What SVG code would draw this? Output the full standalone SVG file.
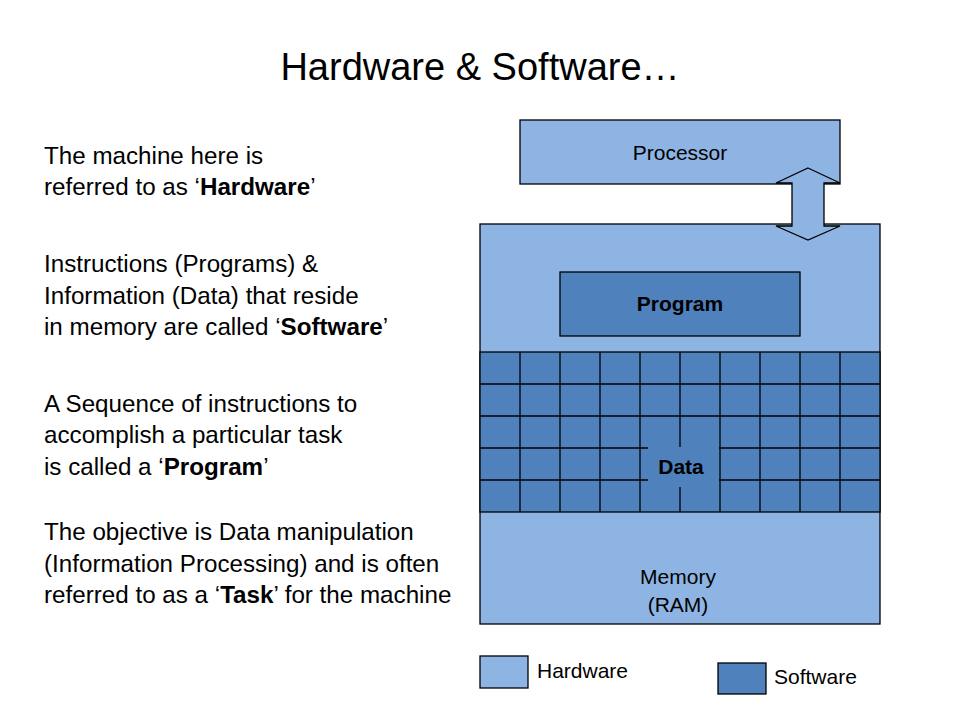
<svg xmlns="http://www.w3.org/2000/svg" width="960" height="720" viewBox="0 0 960 720">
<style>
.t{font-family:"Liberation Sans",Arial,sans-serif;font-size:24.2px;fill:#000}
.l{font-family:"Liberation Sans",Arial,sans-serif;font-size:21px;fill:#000}
.hw{fill:#8EB4E3;stroke:#000;stroke-width:1.3}
.sw{fill:#4F81BD;stroke:#000;stroke-width:1.3}
.g{stroke:#000;stroke-width:1.3}
</style>
<rect width="960" height="720" fill="#fff"/>
<text x="480" y="80" text-anchor="middle" style="font-family:'Liberation Sans',Arial,sans-serif;font-size:38px">Hardware &amp; Software…</text>
<g id="text" class="t">
<text x="44" y="164">The machine here is</text>
<text x="44" y="195">referred to as ‘<tspan font-weight="bold">Hardware</tspan>’</text>
<text x="44" y="272">Instructions (Programs) &amp;</text>
<text x="44" y="304">Information (Data) that reside</text>
<text x="44" y="335">in memory are called ‘<tspan font-weight="bold">Software</tspan>’</text>
<text x="44" y="412">A Sequence of instructions to</text>
<text x="44" y="443">accomplish a particular task</text>
<text x="44" y="475">is called a ‘<tspan font-weight="bold">Program</tspan>’</text>
<text x="44" y="540">The objective is Data manipulation</text>
<text x="44" y="572">(Information Processing) and is often</text>
<text x="44" y="603">referred to as a ‘<tspan font-weight="bold">Task</tspan>’ for the machine</text>
</g>
<g id="processor">
<rect class="hw" x="520" y="120" width="320" height="64"/>
<text class="l" x="680" y="160" text-anchor="middle">Processor</text>
</g>
<g id="memory">
<rect class="hw" x="480" y="224" width="400" height="400"/>
<text class="l" x="678" y="584" text-anchor="middle">Memory</text>
<text class="l" x="678" y="612" text-anchor="middle">(RAM)</text>
</g>
<g id="program">
<rect class="sw" x="560" y="272" width="240" height="64"/>
<text class="l" x="680" y="311" text-anchor="middle" font-weight="bold">Program</text>
</g>
<g id="data">
<rect class="sw" x="480" y="352" width="400" height="160"/>
<g class="g">
<line x1="480" y1="384" x2="880" y2="384"/><line x1="480" y1="416" x2="880" y2="416"/>
<line x1="480" y1="448" x2="880" y2="448"/><line x1="480" y1="480" x2="880" y2="480"/>
<line x1="520" y1="352" x2="520" y2="512"/><line x1="560" y1="352" x2="560" y2="512"/>
<line x1="600" y1="352" x2="600" y2="512"/><line x1="640" y1="352" x2="640" y2="512"/>
<line x1="680" y1="352" x2="680" y2="512"/><line x1="720" y1="352" x2="720" y2="512"/>
<line x1="760" y1="352" x2="760" y2="512"/><line x1="800" y1="352" x2="800" y2="512"/>
<line x1="840" y1="352" x2="840" y2="512"/>
</g>
<rect x="648" y="447" width="71" height="40" fill="#4F81BD"/>
<text class="l" x="681" y="474" text-anchor="middle" font-weight="bold">Data</text>
</g>
<g id="connectors">
<polygon class="hw" points="808,168 840,183 824,183 824,226 840,226 808,240 776,226 792,226 792,183 776,183"/>
</g>
<g id="legend">
<rect class="hw" x="480" y="656" width="48" height="32"/>
<text class="l" x="537" y="678">Hardware</text>
<rect class="sw" x="718" y="663" width="48" height="31"/>
<text class="l" x="774" y="684">Software</text>
</g>
</svg>
